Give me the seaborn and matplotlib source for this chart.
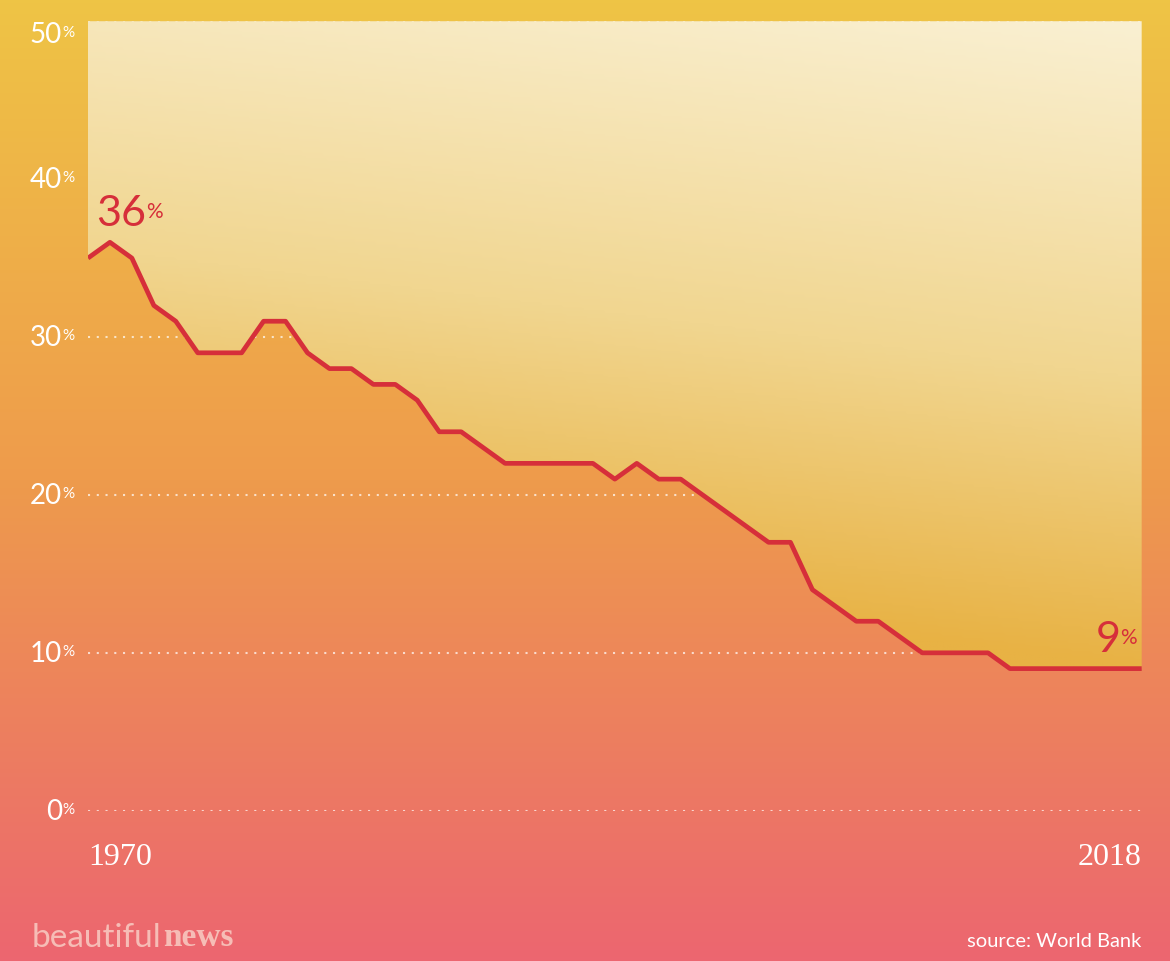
import seaborn as sns
import pandas as pd
import matplotlib.pyplot as plt
import numpy as np
from matplotlib.colors import LinearSegmentedColormap
from matplotlib.patches import Polygon
from matplotlib import transforms

# data
years = list(range(1970, 2019))
share = [35, 36, 35, 32, 31, 29, 29, 29, 31, 31,
         29, 28, 28, 27, 27, 26, 24, 24, 23, 22,
         22, 22, 22, 22, 21, 22, 21, 21, 20, 19,
         18, 17, 17, 14, 13, 12, 12, 11, 10, 10,
         10, 10, 9, 9, 9, 9, 9, 9, 9]
y_ticks = [0, 10, 20, 30, 40, 50]
first_label = "36"
last_label = "9"

df = pd.DataFrame({'year': years, 'share': share})

sns.set_theme(style='white')
plt.rcParams['font.family'] = ['Lato', 'DejaVu Sans']

RED = '#D62F3A'
fig = plt.figure(figsize=(11.7, 9.62), dpi=100)

# background gradient (whole figure)
bg = fig.add_axes([0, 0, 1, 1], zorder=0)
bg_cmap = LinearSegmentedColormap.from_list(
    'bg', [(0, '#EEC445'), (0.5, '#EE9B4C'), (1, '#EC6670')])
bg.imshow(np.linspace(0, 1, 256).reshape(-1, 1), cmap=bg_cmap,
          aspect='auto', extent=[0, 1, 0, 1], origin='upper')
bg.set_axis_off()

ax = fig.add_axes([0.0752, 0.1562, 0.9006, 0.8207], zorder=1)
ax.patch.set_alpha(0)

# dotted gridlines (hidden under the upper fill)
ax.hlines(y_ticks, 1970, 2018, colors='white', alpha=0.7,
          linewidth=1.5, linestyles=(0, (1, 3.2)), zorder=1)

# upper fill: light gradient clipped to the area above the line
verts = list(zip(df['year'], df['share'])) + [(2018, 50), (1970, 50)]
clip = Polygon(verts, closed=True, transform=ax.transData,
               facecolor='none', edgecolor='none')
ax.add_patch(clip)
u, v = np.meshgrid(np.linspace(0, 1, 300), np.linspace(1, 0, 300))
t = np.clip(1.22 * (1 - v) + 0.2 * (1 - u), 0, 1)
fill_cmap = LinearSegmentedColormap.from_list(
    'fill', [(0, '#FAF0D2'), (0.55, '#F1D690'), (1, '#E8B244')])
im = ax.imshow(t, cmap=fill_cmap, vmin=0, vmax=1, aspect='auto',
               extent=[1970, 2018, 0, 50], origin='upper', zorder=2)
im.set_clip_path(clip)

sns.lineplot(data=df, x='year', y='share', ax=ax, color=RED,
             linewidth=3.4, zorder=3, solid_joinstyle='round',
             solid_capstyle='butt')

ax.set_xlim(1970, 2018)
ax.set_ylim(0, 50)
ax.set_xlabel('')
ax.set_ylabel('')
ax.set_xticks([])
ax.set_yticks([])
sns.despine(ax=ax, left=True, bottom=True)

# y labels with small raised %
trans = transforms.blended_transform_factory(ax.transAxes, ax.transData)
for val in y_ticks:
    yy = 49.2 if val == 50 else val
    tl = ax.text(-0.0247, yy, str(val), transform=trans, ha='right',
                 va='center', color='white', fontsize=20)
    ax.annotate('%', xy=(1, 1), xycoords=tl, xytext=(0, -3),
                textcoords='offset points', ha='left', va='top',
                color='white', fontsize=11)

# end values
t1 = ax.text(1970.36, 37.1, first_label, ha='left', va='baseline',
             color=RED, fontsize=31, zorder=5)
ax.annotate('%', xy=(1, 1), xycoords=t1, xytext=(0, -5),
            textcoords='offset points', ha='left', va='top',
            color=RED, fontsize=15, zorder=5)
t2 = ax.text(2015.9, 10.1, last_label, ha='left', va='baseline',
             color=RED, fontsize=31, zorder=5)
ax.annotate('%', xy=(1, 1), xycoords=t2, xytext=(0, -5),
            textcoords='offset points', ha='left', va='top',
            color=RED, fontsize=15, zorder=5)

# year labels
ax.text(0, -0.068, str(years[0]), transform=ax.transAxes, ha='left',
        va='baseline', color='white', fontsize=23,
        family='Liberation Serif')
ax.text(1, -0.068, str(years[-1]), transform=ax.transAxes, ha='right',
        va='baseline', color='white', fontsize=23,
        family='Liberation Serif')

# footer
b = bg.text(0.027, 0.016, 'beautiful', transform=fig.transFigure,
            ha='left', va='baseline', color='#F6BDB6', fontsize=24)
bg.annotate('news', xy=(1, 0), xycoords=b, xytext=(1, 0),
            textcoords='offset points', ha='left', va='bottom',
            color='#F6BDB6', fontsize=24, fontweight='bold',
            family='Liberation Serif')
fig.text(0.9752, 0.016, 'source: World Bank', ha='right', va='baseline',
         color='white', fontsize=14.5)

fig.savefig('out.png', dpi=100)
